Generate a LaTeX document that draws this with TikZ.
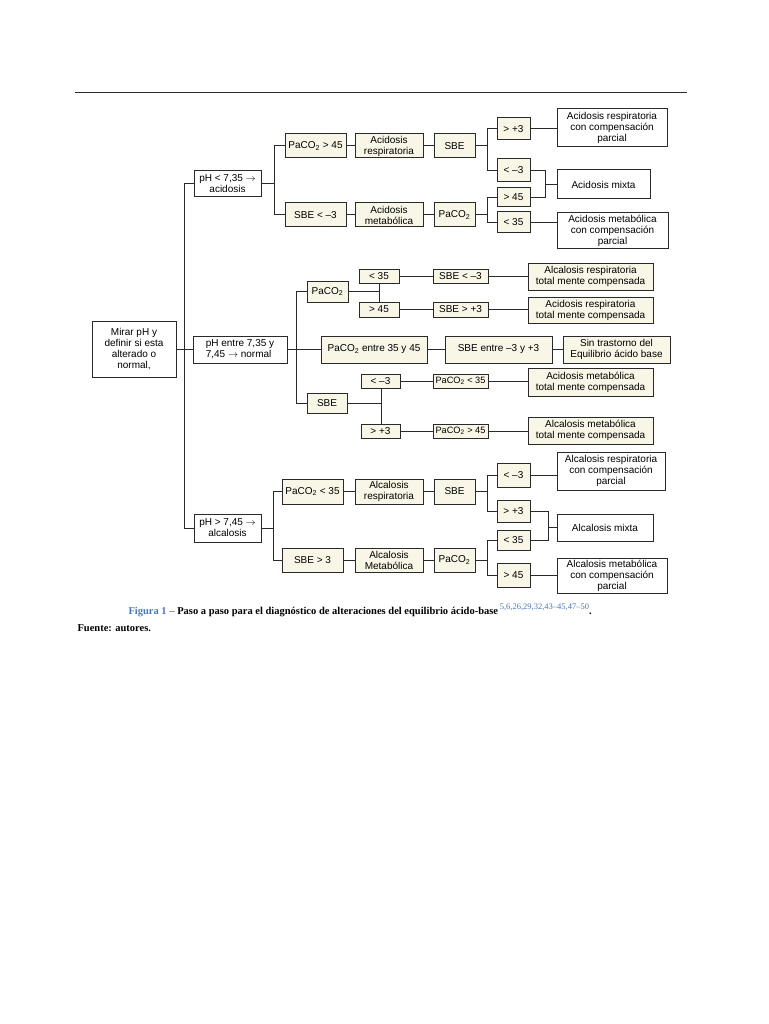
\documentclass[tikz,border=0pt]{standalone}
\usepackage{fontspec}
\setmainfont{Liberation Sans}
\newfontfamily\capfont{Liberation Serif}
\definecolor{cream}{HTML}{F8F6E6}
\definecolor{linec}{HTML}{2A2A2A}
\definecolor{capblue}{HTML}{4A78B8}
\newcommand\bx[7]{\node[#6, minimum width={(#4-#2)*1pt}, minimum height={(#5-#3)*1pt}] (#1) at ({(#2+#4)/2},{-(#3+#5)/2}) {#7};}
\begin{document}
\begin{tikzpicture}[x=1pt,y=1pt,
  every path/.style={draw=linec, line width=1pt},
  bwhite/.style={draw=linec, line width=1pt, fill=white, inner sep=0pt, align=center, font=\fontsize{10}{11}\selectfont},
  bcream/.style={bwhite, fill=cream},
  bsmall/.style={bcream, font=\fontsize{9.2}{10}\selectfont},
  bleft/.style={bwhite, align=left}]
\path[use as bounding box, draw=none, fill=white] (0,0) rectangle (768,-1024);
\draw (75,-92.5) -- (687,-92.5);
% root and level 1
\bx{root}{92}{321}{176}{377}{bwhite}{Mirar pH y\\definir si esta\\alterado o\\normal,}
\bx{acid}{194}{171}{261}{197}{bwhite}{pH < 7,35 $\rightarrow$\\acidosis}
\bx{norm}{193}{336}{287}{363}{bleft}{pH entre 7,35 y\\7,45 $\rightarrow$ normal}
\bx{alca}{194}{514}{261}{542}{bwhite}{pH > 7,45 $\rightarrow$\\alcalosis}
\coordinate (tk) at (184,0);
\draw (acid.west) -- (acid.west -| tk) -- (alca.west -| tk) -- (alca.west);
\draw (root.east) -- (root.east -| tk);
\draw (norm.west) -- (norm.west -| tk);
% top section
\bx{A1}{285}{134}{346}{158}{bcream}{PaCO\textsubscript{2} > 45}
\bx{A2}{355}{134}{423}{158}{bcream}{Acidosis\\respiratoria}
\bx{A3}{434}{134}{475}{158}{bcream}{SBE}
\bx{A4}{285}{203}{346}{227}{bcream}{SBE < –3}
\bx{A5}{355}{203}{423}{227}{bcream}{Acidosis\\metabólica}
\bx{A6}{434}{203}{475}{227}{bcream}{PaCO\textsubscript{2}}
\bx{A7}{497}{118}{530}{140}{bcream}{> +3}
\bx{A8}{497}{159}{530}{182}{bcream}{< –3}
\bx{A9}{497}{188}{530}{207}{bcream}{> 45}
\bx{A10}{497}{212}{530}{233}{bcream}{< 35}
\bx{R1}{557}{109}{667}{147}{bwhite}{Acidosis respiratoria\\con compensación\\parcial}
\bx{R2}{557}{170}{650}{199}{bwhite}{Acidosis mixta}
\bx{R3}{557}{213}{668}{248}{bwhite}{Acidosis metabólica\\con compensación\\parcial}
\coordinate (ta) at (274,0);
\coordinate (tc) at (487,0);
\coordinate (ja) at (545,0);
\draw (A1.west) -- (A1.west -| ta) -- (A4.west -| ta) -- (A4.west);
\draw (acid.east) -- (acid.east -| ta);
\draw (A1) -- (A2); \draw (A2) -- (A3);
\draw (A4) -- (A5); \draw (A5) -- (A6);
\draw (A7.west) -- (A7.west -| tc) -- (A8.west -| tc) -- (A8.west);
\draw (A3.east) -- (A3.east -| tc);
\draw (A9.west) -- (A9.west -| tc) -- (A10.west -| tc) -- (A10.west);
\draw (A6.east) -- (A6.east -| tc);
\draw (A7.east) -- (A7.east -| R1.west);
\draw (A8.east) -- (A8.east -| ja) -- (A9.east -| ja) -- (A9.east);
\draw (ja |- R2.west) -- (R2.west);
\draw (A10.east) -- (A10.east -| R3.west);
% middle section
\bx{B1}{307}{281}{348}{302}{bcream}{PaCO\textsubscript{2}}
\bx{B2}{359}{269}{399}{283}{bcream}{< 35}
\bx{B3}{359}{302}{399}{317}{bcream}{> 45}
\bx{B4}{433}{269}{488}{283}{bcream}{SBE < –3}
\bx{B5}{433}{302}{488}{317}{bcream}{SBE > +3}
\bx{R4}{528}{263}{653}{290}{bcream}{Alcalosis respiratoria\\total mente compensada}
\bx{R5}{528}{297}{653}{323}{bcream}{Acidosis respiratoria\\total mente compensada}
\bx{B6}{321}{336}{427}{363}{bcream}{PaCO\textsubscript{2} entre 35 y 45}
\bx{B7}{445}{336}{552}{363}{bcream}{SBE entre –3 y +3}
\bx{R6}{563}{336}{670}{363}{bcream}{Sin trastorno del\\Equilibrio ácido base}
\bx{B8}{307}{393}{347}{413}{bcream}{SBE}
\bx{B9}{361}{374}{400}{388}{bcream}{< –3}
\bx{B10}{361}{424}{400}{438}{bcream}{> +3}
\bx{B11}{433}{374}{488}{388}{bsmall}{PaCO\textsubscript{2} < 35}
\bx{B12}{433}{424}{488}{438}{bsmall}{PaCO\textsubscript{2} > 45}
\bx{R7}{528}{368}{653}{396}{bcream}{Acidosis metabólica\\total mente compensada}
\bx{R8}{528}{417}{653}{444}{bcream}{Alcalosis metabólica\\total mente compensada}
\coordinate (tb) at (296,0);
\coordinate (jb) at (379,0);
\coordinate (jc) at (381,0);
\draw (B1.west) -- (B1.west -| tb) -- (B8.west -| tb) -- (B8.west);
\draw (norm.east) -- (B6.west);
\draw (B6) -- (B7); \draw (B7) -- (R6);
\draw (B1.east) -- (B1.east -| jb);
\draw (jb |- B2.south) -- (jb |- B3.north);
\draw (B2.east) -- (B2.east -| B4.west); \draw (B4.east) -- (B4.east -| R4.west);
\draw (B3.east) -- (B3.east -| B5.west); \draw (B5.east) -- (B5.east -| R5.west);
\draw (B8.east) -- (B8.east -| jc);
\draw (jc |- B9.south) -- (jc |- B10.north);
\draw (B9.east) -- (B9.east -| B11.west); \draw (B11.east) -- (B11.east -| R7.west);
\draw (B10.east) -- (B10.east -| B12.west); \draw (B12.east) -- (B12.east -| R8.west);
% bottom section
\bx{C1}{282}{479}{343}{504}{bcream}{PaCO\textsubscript{2} < 35}
\bx{C2}{355}{479}{423}{504}{bcream}{Alcalosis\\respiratoria}
\bx{C3}{434}{479}{475}{504}{bcream}{SBE}
\bx{C4}{282}{548}{343}{572}{bcream}{SBE > 3}
\bx{C5}{355}{548}{423}{572}{bcream}{Alcalosis\\Metabólica}
\bx{C6}{434}{548}{475}{572}{bcream}{PaCO\textsubscript{2}}
\bx{C7}{497}{463}{530}{487}{bcream}{< –3}
\bx{C8}{497}{500}{530}{522}{bcream}{> +3}
\bx{C9}{497}{530}{530}{550}{bcream}{< 35}
\bx{C10}{497}{563}{530}{587}{bcream}{> 45}
\bx{R9}{557}{452}{665}{490}{bwhite}{Alcalosis respiratoria\\con compensación\\parcial}
\bx{R10}{557}{514}{653}{541}{bwhite}{Alcalosis mixta}
\bx{R11}{557}{558}{667}{593}{bwhite}{Alcalosis metabólica\\con compensación\\parcial}
\coordinate (td) at (273,0);
\coordinate (jd) at (548,0);
\draw (C1.west) -- (C1.west -| td) -- (C4.west -| td) -- (C4.west);
\draw (alca.east) -- (alca.east -| td);
\draw (C1) -- (C2); \draw (C2) -- (C3);
\draw (C4) -- (C5); \draw (C5) -- (C6);
\draw (C7.west) -- (C7.west -| tc) -- (C8.west -| tc) -- (C8.west);
\draw (C3.east) -- (C3.east -| tc);
\draw (C9.west) -- (C9.west -| tc) -- (C10.west -| tc) -- (C10.west);
\draw (C6.east) -- (C6.east -| tc);
\draw (C7.east) -- (C7.east -| R9.west);
\draw (C8.east) -- (C8.east -| jd) -- (C9.east -| jd) -- (C9.east);
\draw (jd |- R10.west) -- (R10.west);
\draw (C10.east) -- (C10.east -| R11.west);
% caption
\node[anchor=base west, inner sep=0pt, font=\capfont\fontsize{10.5}{12}\selectfont] (cap1) at (128,-614)
  {\textcolor{capblue}{\textbf{Figura 1 –}} \textbf{Paso a paso para el diagnóstico de alteraciones del equilibrio ácido-base}\,\raisebox{0.45em}{\textcolor{capblue}{\fontsize{8.5}{9}\selectfont 5,6,26,29,32,43–45,47–50}}\textbf{.}};
\node[anchor=base west, inner sep=0pt, font=\capfont\bfseries\fontsize{10.5}{12}\selectfont] (cap2) at (77,-631) {Fuente: autores.};
\end{tikzpicture}
\end{document}
